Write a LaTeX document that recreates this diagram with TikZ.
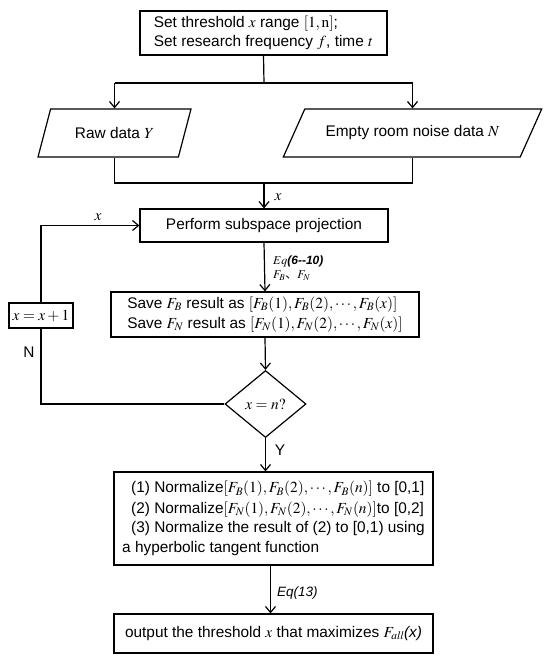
\documentclass[tikz,border=0pt]{standalone}
\usepackage{mathptmx}
\usepackage[no-math]{fontspec}
\setmainfont{Liberation Sans}
\newfontfamily\cjk{Noto Sans CJK SC}
\usetikzlibrary{shapes.geometric,arrows.meta}

\tikzset{
    box/.style={draw, line width=1.2pt, inner sep=2pt},
    para/.style={draw, line width=1.2pt, trapezium, trapezium stretches=true, inner sep=1pt},
    decision/.style={draw, line width=1.2pt, diamond, inner sep=0pt},
    arr/.style={line width=1.2pt, -{Straight Barb[length=6pt,width=10pt,line width=1.2pt]}},
    link/.style={line width=1.2pt},
    lbl/.style={inner sep=0pt}
}

\begin{document}
\begin{tikzpicture}[x=1pt, y=-1pt, font=\fontsize{15.4}{19.5}\selectfont]

    \useasboundingbox (0, 0) rectangle (550, 669);

    % Start box
    \node[box, minimum width=247pt, minimum height=44pt, align=left] (setup) at (263.5, 33)
        {Set threshold $x$ range $[1,\mathrm{n}]$;\\Set research frequency $f$, time $t$};

    % Input data
    \node[para, trapezium left angle=59, trapezium right angle=121,
          minimum width=153pt, minimum height=48pt] (raw) at (114.5, 133) {Raw data $Y$};
    \node[para, trapezium left angle=43, trapezium right angle=137,
          minimum width=259pt, minimum height=48pt] (noise) at (412.5, 133) {Empty room noise data $N$};

    \coordinate (split) at (264, 83);
    \coordinate (merge) at (264, 183);

    % Projection and saving
    \node[box, minimum width=248pt, minimum height=33pt] (proj) at (264, 225.5) {Perform subspace projection};
    \node[box, minimum width=308pt, minimum height=45pt, align=left] (save) at (265, 314.5)
        {Save $F_B$ result as $[F_B(1),F_B(2),\cdots,F_B(x)]$\\[1pt]Save $F_N$ result as $[F_N(1),F_N(2),\cdots,F_N(x)]$};

    % Loop
    \node[decision, minimum width=81pt, minimum height=67pt] (check) at (265.5, 404) {$x=n?$};
    \node[box, minimum width=64pt, minimum height=25pt] (incr) at (41, 315.5) {$x=x+1$};

    % Normalization and result
    \node[box, minimum width=319pt, minimum height=93pt, align=left] (norm) at (273.5, 518.5)
        {\hspace{9pt}(1) Normalize$[F_B(1),F_B(2),\cdots,F_B(n)]$ to [0,1]\\[1pt]
         \hspace{9pt}(2) Normalize$[F_N(1),F_N(2),\cdots,F_N(n)]$to [0,2]\\
         \hspace{9pt}(3) Normalize the result of (2) to [0,1) using\\
         a hyperbolic tangent function};
    \node[box, minimum width=319pt, minimum height=39pt] (result) at (273.5, 633.5)
        {output the threshold $x$ that maximizes $F_{\mathit{all}}$\textit{(x)}};

    % Connectors at the top
    \draw[link] (setup.south) -- (split);
    \draw[link] (raw.north |- split) -- (noise.north |- split);
    \draw[arr] (raw.north |- split) -- (raw.north);
    \draw[arr] (noise.north |- split) -- (noise.north);
    \draw[link] (raw.south) |- (merge) -| (noise.south);
    \draw[arr] (merge) -- (proj.north);

    % Main chain
    \draw[arr] (proj.south) -- (save.north);
    \draw[arr] (save.south) -- (check.north);
    \draw[arr] (check.south) -- (check.south |- norm.north);
    \draw[arr] ([xshift=-3pt]norm.south) -- ([xshift=-3pt]result.north);

    % Back loop
    \draw[link] (check.west) -| (incr.south);
    \draw[arr] (incr.north) |- (proj.west);

    % Labels
    \node[lbl] (xin) at (278, 197) {$x$};
    \node[lbl] (xback) at (98, 217) {$x$};
    \node[lbl, anchor=west, font=\fontsize{12}{14}\selectfont] (eqa) at (273, 261)
        {$Eq$\textit{\textbf{(6-{}-10)}}};
    \node[lbl, anchor=west, font=\fontsize{12}{14}\selectfont] (fbn) at (273, 276)
        {$F_B${\cjk 、}$F_N$};
    \node[lbl] (no) at (29, 352) {N};
    \node[lbl] (yes) at (280, 450) {Y};
    \node[lbl, anchor=west, font=\fontsize{13.5}{16}\selectfont] (eqb) at (277, 593) {\textit{Eq(13)}};

\end{tikzpicture}
\end{document}
